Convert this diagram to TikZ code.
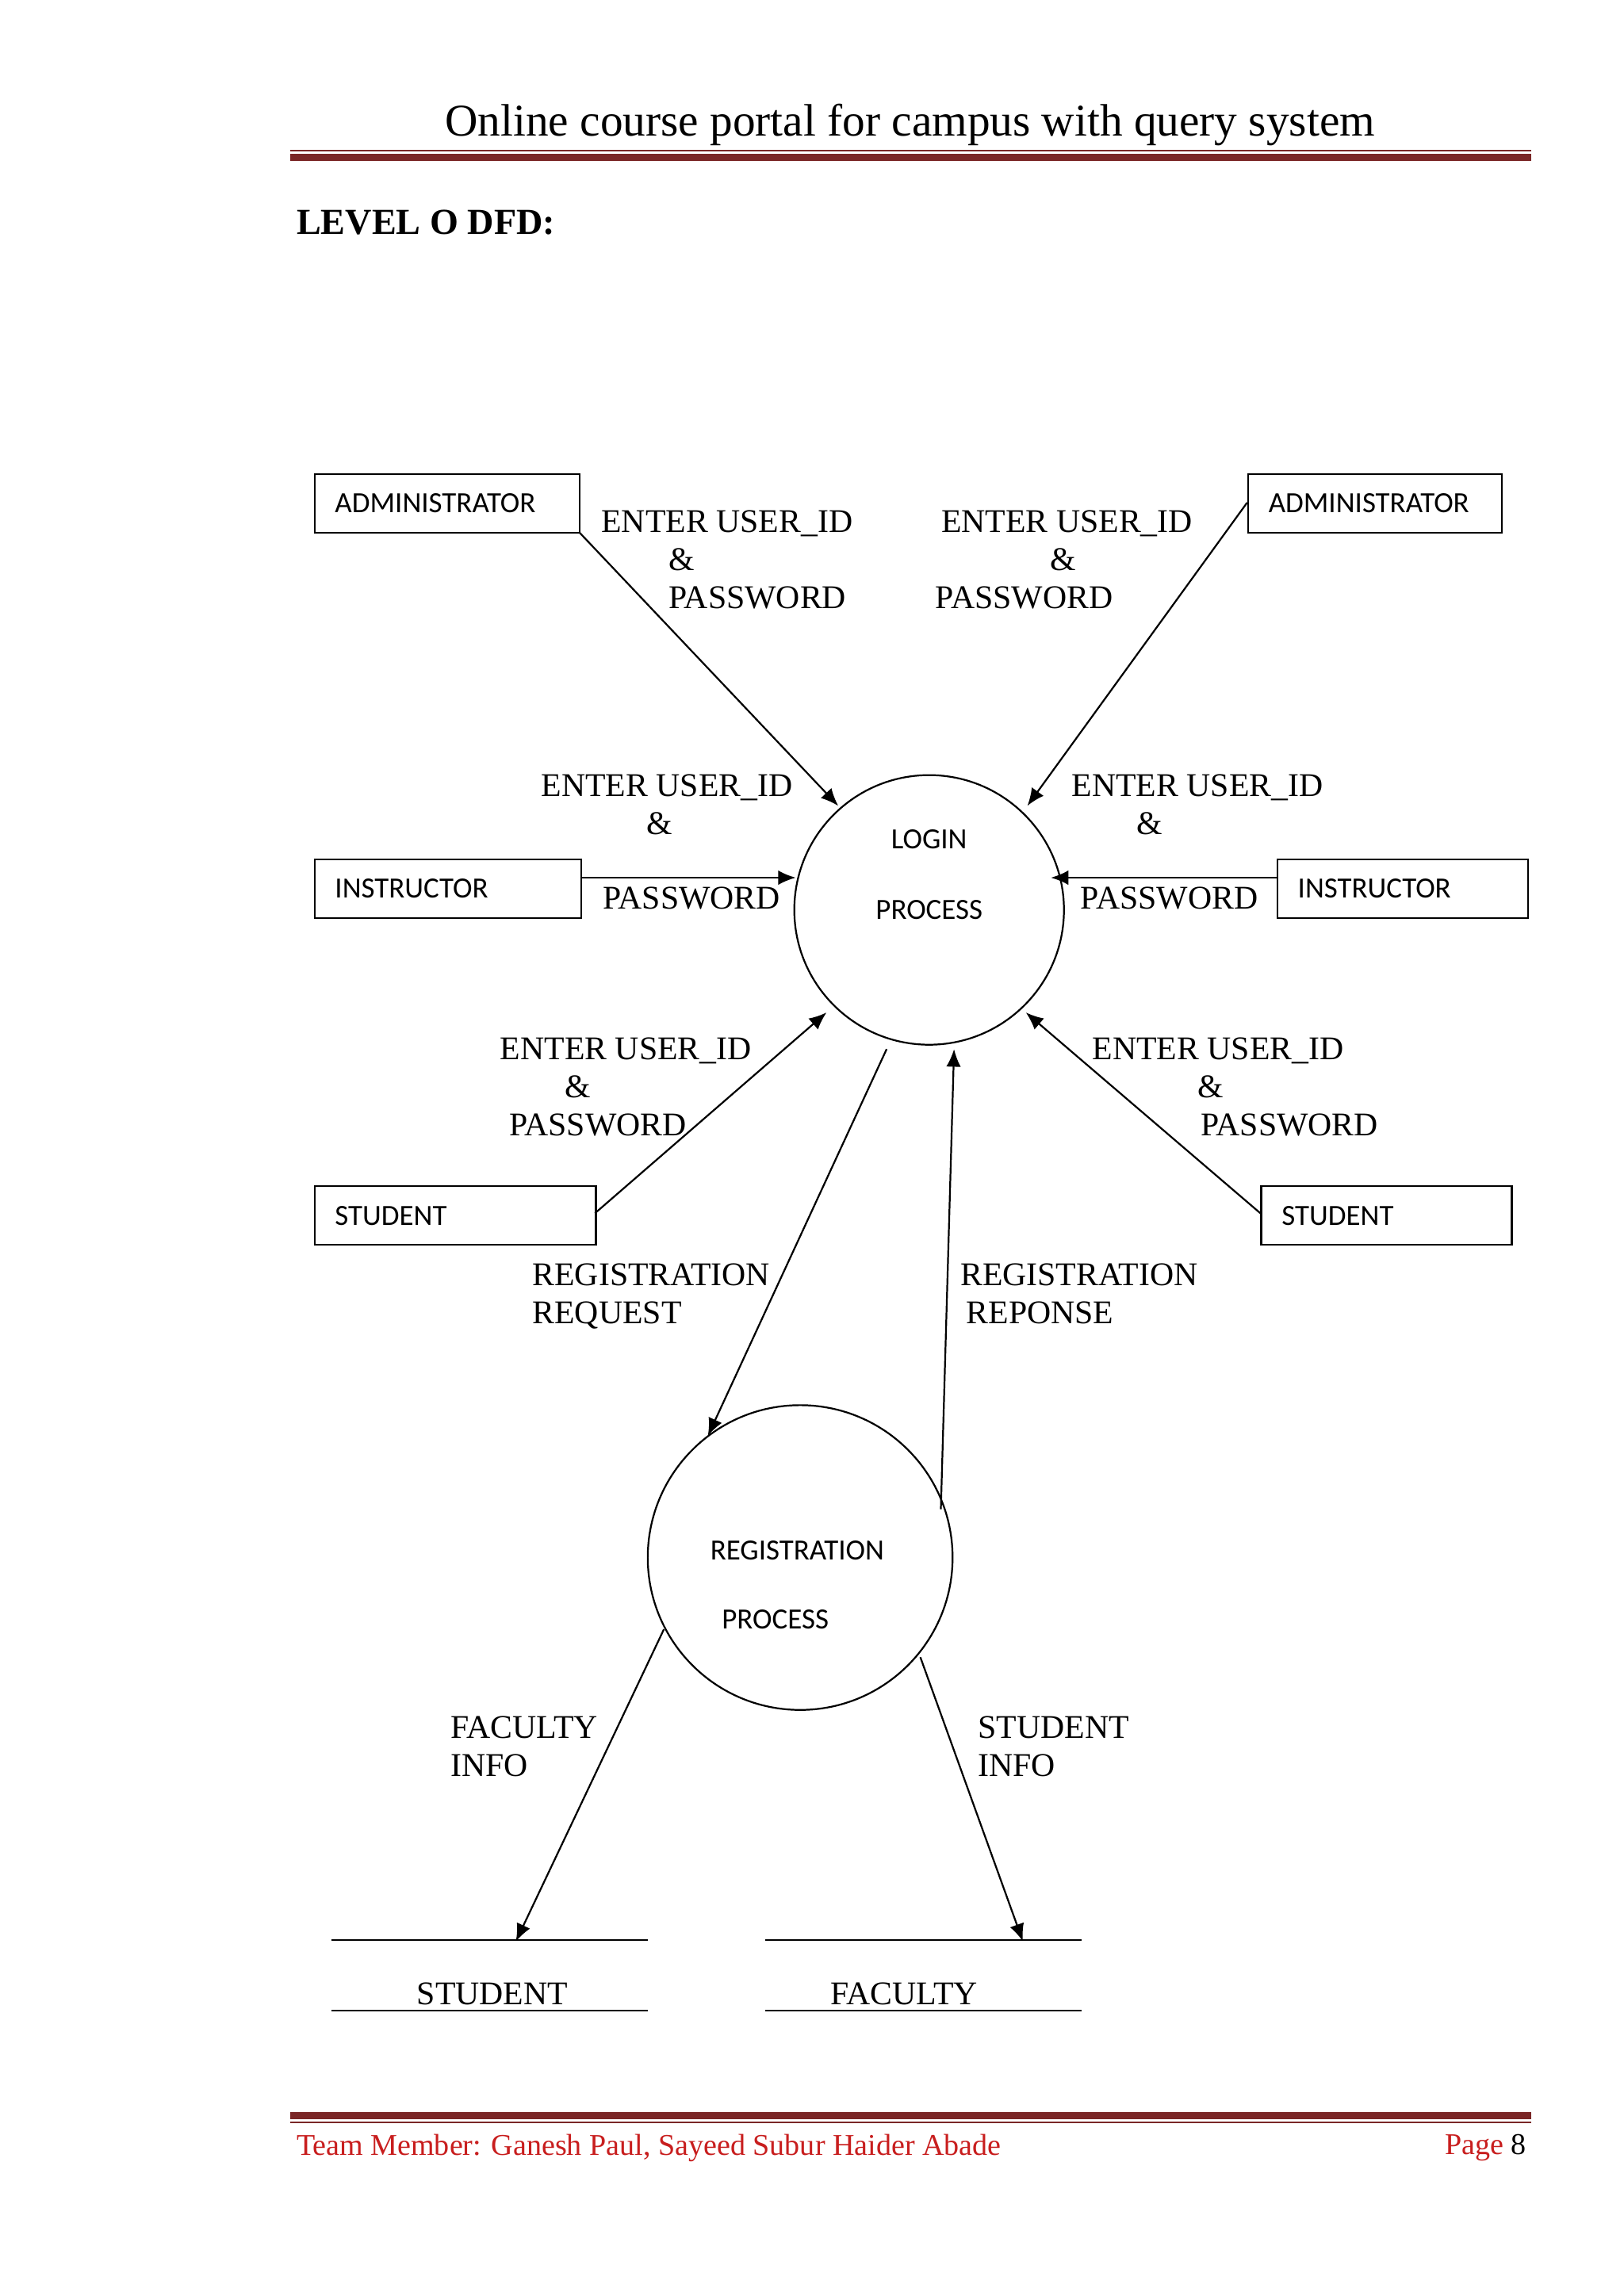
\documentclass[tikz,border=0pt]{standalone}
\usepackage{fontspec}
\setmainfont{Liberation Serif}
\newfontfamily\boxfont{Carlito}
\usetikzlibrary{arrows.meta}
\definecolor{hdr}{RGB}{122,38,38}
\definecolor{ftr}{RGB}{200,30,30}
\begin{document}
\begin{tikzpicture}[x=0.5pt,y=-0.5pt,
 ent/.style={draw,line width=0.6pt,minimum height=20pt,anchor=north west,inner xsep=7pt,inner ysep=0pt,align=left,font=\boxfont\fontsize{10}{11}\selectfont},
 proc/.style={draw,circle,line width=0.6pt,inner sep=0pt},
 flow/.style={line width=0.6pt,-{Latex[length=6pt,width=5pt]}},
 lab/.style={font=\fontsize{11.3}{13}\selectfont,align=left,inner sep=0pt,anchor=north west},
 ptxt/.style={font=\boxfont\fontsize{10}{11}\selectfont,inner sep=0pt}]
\useasboundingbox (0,0) rectangle (1108,1567);
% header
\node[font=\fontsize{15.5}{17}\selectfont] (title) at (621,85) {Online course portal for campus with query system};
\draw[hdr,line width=0.5pt] (198,103) -- (1045,103);
\draw[hdr,line width=2.5pt] (198,107.5) -- (1045,107.5);
\node[anchor=west,font=\bfseries\fontsize{12.5}{14}\selectfont,inner sep=0pt] (lvl) at (202,152) {LEVEL O DFD:};
% entities
\node[ent,text width=76.5pt] (adl) at (214,323) {ADMINISTRATOR};
\node[ent,text width=72.5pt] (adr) at (851,323) {ADMINISTRATOR};
\node[ent,text width=77pt] (inl) at (214,586) {INSTRUCTOR};
\node[ent,text width=71.5pt] (inr) at (871,586) {INSTRUCTOR};
\node[ent,text width=82pt] (stl) at (214,809) {STUDENT};
\node[ent,text width=71.5pt] (str) at (860,809) {STUDENT};
% processes
\node[proc,minimum size=92pt] (login) at (634,621) {};
\node[ptxt] (lt1) at (634,573) {LOGIN};
\node[ptxt] (lt2) at (634,621) {PROCESS};
\node[proc,minimum size=104pt] (reg) at (546,1063) {};
\node[ptxt] (rt1) at (544,1058) {REGISTRATION};
\node[ptxt] (rt2) at (529,1105) {PROCESS};
% coordinates
\coordinate (a1) at (572,550);
\coordinate (a2) at (701,550);
\coordinate (a3) at (543,599);
\coordinate (a4) at (717,599);
\coordinate (a5) at (564,691);
\coordinate (a6) at (700,691);
\coordinate (l1) at (605,716);
\coordinate (r1) at (483,980);
\coordinate (r2) at (642,1030);
\coordinate (l2) at (651,716);
\coordinate (r3) at (453,1112);
\coordinate (s1) at (352,1325);
\coordinate (r4) at (628,1131);
\coordinate (f1) at (698,1325);
\coordinate (stlc) at (406,828);
\coordinate (strc) at (860,828);
\coordinate (adlc) at (395,363);
\coordinate (adrc) at (851,343);
\coordinate (inlc) at (396,599);
\coordinate (inrc) at (871,599);
% flows
\draw[flow] (adlc) -- (a1);
\draw[flow] (adrc) -- (a2);
\draw[flow] (inlc) -- (a3);
\draw[flow] (inrc) -- (a4);
\draw[flow] (stlc) -- (a5);
\draw[flow] (strc) -- (a6);
\draw[flow] (l1) -- (r1);
\draw[flow] (r2) -- (l2);
\draw[flow] (r3) -- (s1);
\draw[flow] (r4) -- (f1);
% labels
\node[lab] (t1) at (410,348) {ENTER USER\_ID\\\hspace{23pt}\&\\\hspace{23pt}PASSWORD};
\node[lab] (t2) at (638,348) {\hspace{2pt}ENTER USER\_ID\\\hspace{39pt}\&\\PASSWORD};
\node[lab] (t3) at (369,528) {ENTER USER\_ID\\\hspace{36pt}\&};
\node[lab] (t3b) at (411,605) {PASSWORD};
\node[lab] (t4) at (731,528) {ENTER USER\_ID\\\hspace{22pt}\&};
\node[lab] (t4b) at (737,605) {PASSWORD};
\node[lab] (t5) at (341,708) {ENTER USER\_ID\\\hspace{22pt}\&\\\hspace{3pt}PASSWORD};
\node[lab] (t6) at (745,708) {ENTER USER\_ID\\\hspace{36pt}\&\\\hspace{37pt}PASSWORD};
\node[lab] (t7) at (363,862) {REGISTRATION\\REQUEST};
\node[lab] (t8) at (655,862) {REGISTRATION\\\hspace{2pt}REPONSE};
\node[lab] (t9) at (307,1171) {FACULTY\\INFO};
\node[lab] (t10) at (667,1171) {STUDENT\\INFO};
% data stores
\draw[line width=0.6pt] (226,1324) -- (442,1324) (226,1372) -- (442,1372);
\draw[line width=0.6pt] (522,1324) -- (738,1324) (522,1372) -- (738,1372);
\node[font=\fontsize{11.3}{13}\selectfont] (ds1) at (336,1361) {STUDENT};
\node[font=\fontsize{11.3}{13}\selectfont] (ds2) at (617,1361) {FACULTY};
% footer
\draw[hdr,line width=2.5pt] (198,1444) -- (1045,1444);
\draw[hdr,line width=0.5pt] (198,1448.5) -- (1045,1448.5);
\node[anchor=west,text=ftr,font=\fontsize{10.3}{12}\selectfont,inner sep=0pt] (ft) at (202,1466) {Team Member: Ganesh Paul, Sayeed Subur Haider Abade};
\node[anchor=east,font=\fontsize{10.3}{12}\selectfont,inner sep=0pt] (pg) at (1042,1466) {\textcolor{ftr}{Page} 8};
\end{tikzpicture}
\end{document}
